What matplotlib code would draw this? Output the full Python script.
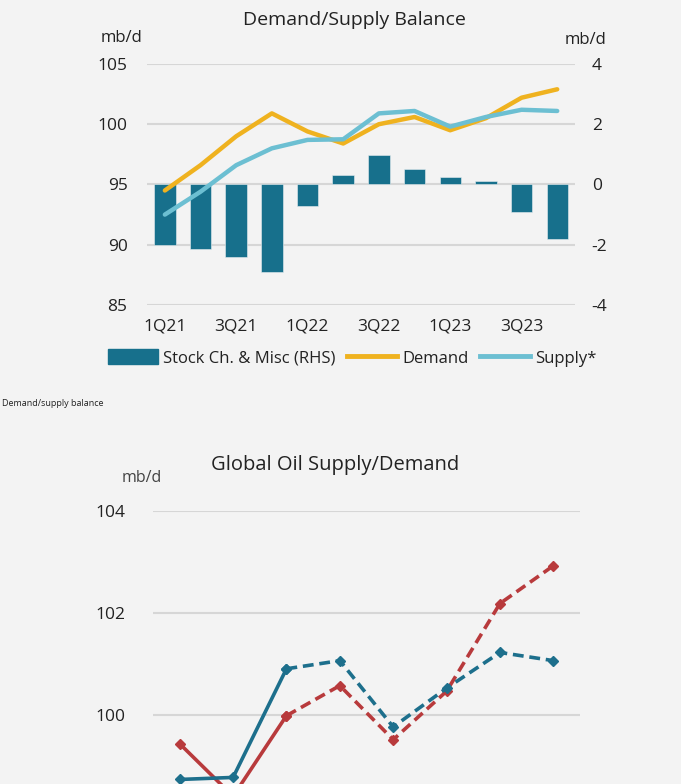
import numpy as np
import matplotlib
matplotlib.use("Agg")
import matplotlib.pyplot as plt
from matplotlib.patches import Patch
from matplotlib.lines import Line2D

plt.rcParams['font.family'] = ['Open Sans', 'DejaVu Sans']
plt.rcParams['axes.unicode_minus'] = False

# top chart data (quarterly, mb/d)
quarters = ['1Q21', '2Q21', '3Q21', '4Q21', '1Q22', '2Q22', '3Q22', '4Q22',
            '1Q23', '2Q23', '3Q23', '4Q23']
stock_change = [-2.0, -2.15, -2.4, -2.9, -0.7, 0.3, 0.97, 0.52, 0.26, 0.1, -0.92, -1.8]
demand = [94.5, 96.6, 99.0, 100.9, 99.4, 98.4, 100.0, 100.6, 99.5, 100.5, 102.2, 102.9]
supply = [92.5, 94.4, 96.6, 98.0, 98.7, 98.75, 100.9, 101.1, 99.8, 100.6, 101.2, 101.1]

# bottom chart data (cut off at the bottom of the picture)
quarters2 = ['1Q22', '2Q22', '3Q22', '4Q22', '1Q23', '2Q23', '3Q23', '4Q23']
supply2 = [98.73, 98.77, 100.9, 101.06, 99.76, 100.52, 101.22, 101.06]
demand2 = [99.43, 98.4, 99.98, 100.57, 99.51, 100.46, 102.18, 102.92]
n_actual = 3  # first three points solid, rest dashed (forecast)

bg = '#f3f3f3'
bar_col = '#17708c'
dem_col = '#efb21f'
sup_col = '#6cbfd2'
teal = '#1d6f8c'
red = '#b83a3c'
grid_col = '#d6d6d6'
txt = '#222222'

fig = plt.figure(figsize=(6.81, 7.84), dpi=100, facecolor=bg)

# ---------- top chart ----------
ax2 = fig.add_axes([0.2159, 0.6110, 0.6285, 0.3074])
ax = ax2.twinx()
ax.set_zorder(ax2.get_zorder() + 1)
ax.patch.set_visible(False)
ax2.patch.set_visible(False)

x = np.arange(len(quarters))
ax2.bar(x, stock_change, width=0.6, color=bar_col, edgecolor='#e8eef0', linewidth=0.4)
ax2.set_ylim(-4, 4)
ax2.set_yticks([-4, -2, 0, 2, 4])
ax2.yaxis.tick_right()
ax2.grid(axis='y', color=grid_col, linewidth=1.5)
ax2.set_axisbelow(True)

ax.plot(x, demand, color=dem_col, linewidth=3.2, solid_capstyle='round')
ax.plot(x, supply, color=sup_col, linewidth=3.2, solid_capstyle='round')
ax.set_ylim(85, 105)
ax.set_yticks([85, 90, 95, 100, 105])
ax.yaxis.tick_left()

ax2.set_xlim(-0.5, len(quarters) - 0.5)
ax2.set_xticks(x[::2])
ax2.set_xticklabels(quarters[::2])

for a in (ax, ax2):
    for s in a.spines.values():
        s.set_visible(False)
    a.tick_params(length=0, labelsize=12.5, colors=txt)
ax.tick_params(axis='y', pad=14)
ax2.tick_params(axis='y', pad=12)
ax2.tick_params(axis='x', pad=10)

fig.text(354 / 681, 1 - 20 / 784, 'Demand/Supply Balance', ha='center', va='center',
         fontsize=14, color=txt)
fig.text(122 / 681, 1 - 38 / 784, 'mb/d', ha='center', va='center', fontsize=12, color=txt)
fig.text(585 / 681, 1 - 40 / 784, 'mb/d', ha='center', va='center', fontsize=12, color=txt)

handles = [Patch(color=bar_col), Line2D([], [], color=dem_col, linewidth=3.5),
           Line2D([], [], color=sup_col, linewidth=3.5)]
fig.legend(handles, ['Stock Ch. & Misc (RHS)', 'Demand', 'Supply*'], ncol=3,
           loc='center', bbox_to_anchor=(352 / 681, 1 - 358 / 784), frameon=False,
           fontsize=12, handlelength=3.0, handletextpad=0.3, columnspacing=0.7,
           handleheight=1.0, labelcolor=txt)

fig.text(2 / 681, 1 - 404 / 784, 'Demand/supply balance', ha='left', va='center',
         fontsize=6.5, color=txt)

# ---------- bottom chart (cropped at the bottom) ----------
bx = fig.add_axes([0.2247, -0.1718, 0.6270, 0.5204])
bx.set_facecolor(bg)
x2 = np.arange(len(quarters2))
for vals, col in ((demand2, red), (supply2, teal)):
    bx.plot(x2[:n_actual], vals[:n_actual], color=col, linewidth=2.6,
            marker='D', markersize=5)
    bx.plot(x2[n_actual - 1:], vals[n_actual - 1:], color=col, linewidth=2.6,
            linestyle=(0, (3, 1.6)), marker='D', markersize=5)
bx.set_ylim(96, 104)
bx.set_yticks([100, 102, 104])
bx.set_xlim(-0.5, len(quarters2) - 0.5)
bx.set_xticks(x2)
bx.set_xticklabels(quarters2)
bx.tick_params(axis='x', labelbottom=False)  # labels fall below the crop
bx.grid(axis='y', color=grid_col, linewidth=1.5)
bx.set_axisbelow(True)
for s in bx.spines.values():
    s.set_visible(False)
bx.tick_params(length=0, labelsize=12.5, colors=txt, pad=20)

fig.text(335 / 681, 1 - 465 / 784, 'Global Oil Supply/Demand', ha='center', va='center',
         fontsize=14.5, color=txt)
fig.text(142 / 681, 1 - 478 / 784, 'mb/d', ha='center', va='center', fontsize=11.5,
         color='#444444')

fig.savefig('out.png', dpi=100, facecolor=bg)
